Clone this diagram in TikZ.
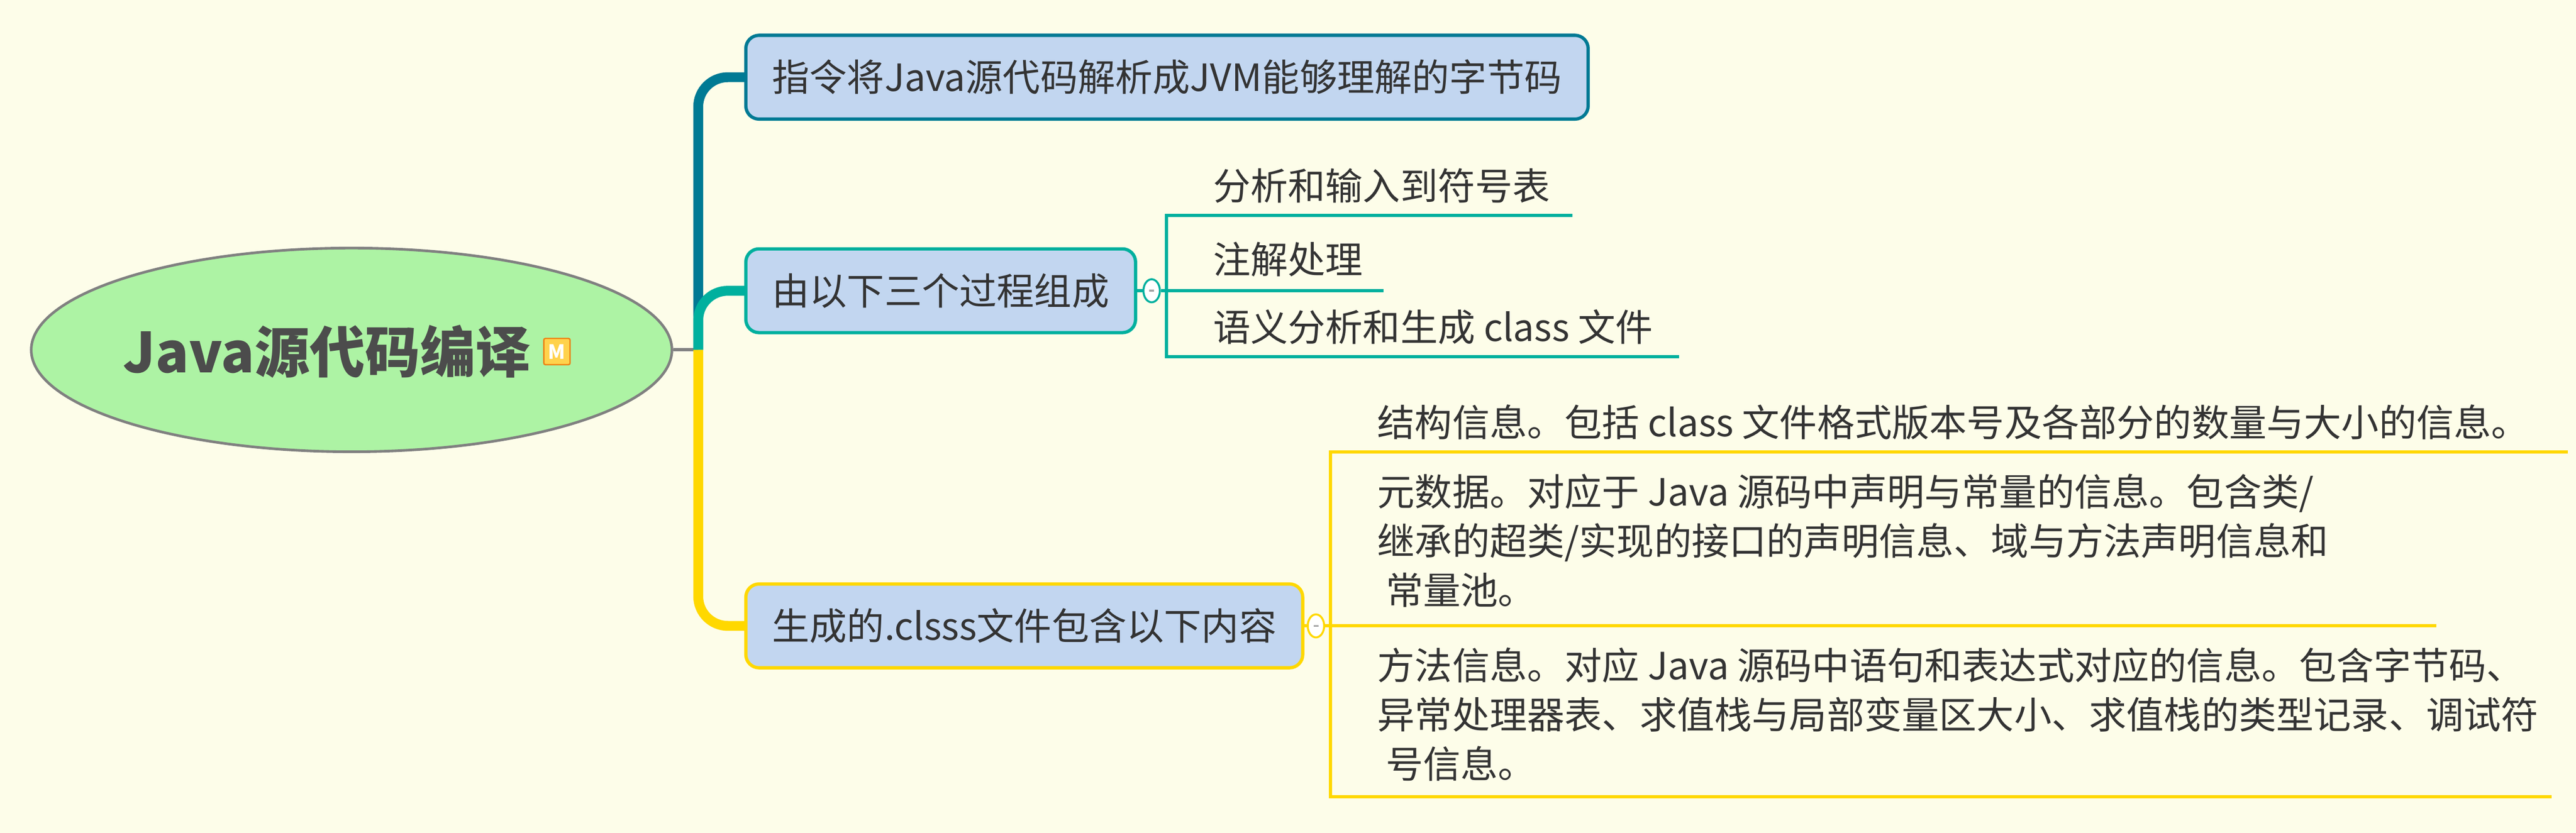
\documentclass[tikz,border=0pt]{standalone}
\usepackage{fontspec}
\setmainfont{Noto Sans CJK SC}
\usetikzlibrary{shapes.geometric}
\definecolor{bg}{HTML}{FDFDE9}
\definecolor{nodefill}{HTML}{C2D6F0}
\definecolor{dteal}{HTML}{007A94}
\definecolor{lteal}{HTML}{00B09E}
\definecolor{ylw}{HTML}{FFD800}
\definecolor{grn}{HTML}{ADF3A4}
\definecolor{txt}{HTML}{333333}
\tikzset{
  topic/.style={draw, line width=1pt, rounded corners=4pt, fill=nodefill, minimum height=25.5pt, inner xsep=8pt, font=\fontsize{11.4}{12}\selectfont, text=txt, anchor=west},
  sub/.style={anchor=south west, inner sep=0pt, font=\fontsize{11.4}{15}\selectfont, text=txt, align=left},
  collapse/.style={ellipse, draw, fill=white, line width=0.6pt, minimum width=5pt, minimum height=7pt, inner sep=0pt},
}
\begin{document}
\begin{tikzpicture}[x=0.5pt,y=-0.5pt]
\fill[bg] (0,0) rectangle (1568,507);
\useasboundingbox (0,0) rectangle (1568,507);
% root
\node[ellipse, draw=gray, line width=0.8pt, fill=grn, minimum width=195pt, minimum height=62pt, inner sep=0pt] (root) at (214,213) {};
\node[font=\fontsize{16.8}{20}\selectfont\bfseries, text=black!70] (title) at (199,214) {Java源代码编译};
\node[draw={orange!70!brown}, fill={orange!50!yellow!70}, rounded corners=0.5pt, minimum size=8pt, inner sep=0pt, text=white, font=\fontsize{6}{6}\selectfont\bfseries] (icon) at (339,214) {M};
\coordinate (j) at (425,213);
% topics
\node[topic, draw=dteal] (n1) at (453,47) {指令将Java源代码解析成JVM能够理解的字节码};
\node[topic, draw=lteal] (n2) at (453,177) {由以下三个过程组成};
\node[topic, draw=ylw] (n3) at (453,381) {生成的.clsss文件包含以下内容};
\draw[gray, line width=1pt] (root.east) -- (j);
\draw[dteal, line width=3pt, rounded corners=9pt] (j) -- (425,47) -- (n1.west);
\draw[lteal, line width=3pt, rounded corners=9pt] (j) -- (425,177) -- (n2.west);
\draw[ylw, line width=3pt, rounded corners=9pt] (j) -- (425,381) -- (n3.west);
% n2 children
\node[collapse, draw=lteal] (c2) at (701,177) {};
\draw[gray!70, line width=0.6pt] (699.5,177) -- (702.5,177);
\draw[lteal, line width=1pt] (n2.east) -- (c2.west);
\coordinate (b2) at (710,177);
\draw[lteal, line width=1pt] (c2.east) -- (b2) -- (842,177);
\draw[lteal, line width=1pt] (957,131) -- (710,131) -- (710,217) -- (1022,217);
\node[sub] (s1) at (738,124) {分析和输入到符号表};
\node[sub] (s2) at (738,169) {注解处理};
\node[sub] (s3) at (738,210) {语义分析和生成 class 文件};
% n3 children
\node[collapse, draw=ylw] (c3) at (801,381) {};
\draw[gray!70, line width=0.6pt] (799.5,381) -- (802.5,381);
\draw[ylw, line width=1pt] (n3.east) -- (c3.west);
\coordinate (b3) at (810,381);
\draw[ylw, line width=1pt] (c3.east) -- (b3) -- (1483,381);
\draw[ylw, line width=1pt] (1563,275) -- (810,275) -- (810,485) -- (1553,485);
\node[sub] (t1) at (838,268) {结构信息。包括 class 文件格式版本号及各部分的数量与大小的信息。};
\node[sub] (t2) at (838,370) {元数据。对应于 Java 源码中声明与常量的信息。包含类/\\继承的超类/实现的接口的声明信息、域与方法声明信息和\\\ 常量池。};
\node[sub] (t3) at (838,476) {方法信息。对应 Java 源码中语句和表达式对应的信息。包含字节码、\\异常处理器表、求值栈与局部变量区大小、求值栈的类型记录、调试符\\\ 号信息。};
\end{tikzpicture}
\end{document}
